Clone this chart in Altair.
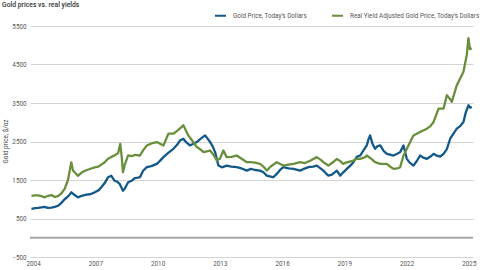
import altair as alt
import pandas as pd

title_text = "Gold prices vs. real yields"
series_names = ["Gold Price, Today's Dollars", "Real Yield Adjusted Gold Price, Today's Dollars"]
series_colors = ["#12598a", "#6a8f3c"]
y_ticks = [-500, 500, 1500, 2500, 3500, 4500, 5500]
x_ticks = [2004, 2007, 2010, 2013, 2016, 2019, 2022, 2025]
zero_line = [0]

gold_years = [2003.92, 2004.1, 2004.24, 2004.4, 2004.56, 2004.7, 2004.88, 2005.05, 2005.2, 2005.35,
              2005.52, 2005.7, 2005.84, 2006.0, 2006.16, 2006.35, 2006.57, 2006.75, 2006.97, 2007.15,
              2007.29, 2007.45, 2007.61, 2007.77, 2007.93, 2008.05, 2008.17, 2008.33, 2008.41, 2008.58,
              2008.75, 2008.9, 2009.05, 2009.15, 2009.3, 2009.48, 2009.7, 2009.96, 2010.1, 2010.28,
              2010.5, 2010.76, 2010.95, 2011.08, 2011.24, 2011.4, 2011.56, 2011.72, 2011.89, 2012.05,
              2012.29, 2012.4, 2012.53, 2012.65, 2012.77, 2012.85, 2012.93, 2013.1, 2013.33, 2013.55,
              2013.81, 2014.05, 2014.3, 2014.5, 2014.7, 2014.94, 2015.1, 2015.26, 2015.45, 2015.58,
              2015.74, 2015.9, 2016.06, 2016.3, 2016.55, 2016.87, 2017.05, 2017.27, 2017.5, 2017.67,
              2017.85, 2017.99, 2018.1, 2018.23, 2018.4, 2018.64, 2018.8, 2018.95, 2019.12, 2019.3,
              2019.44, 2019.6, 2019.76, 2019.9, 2020.08, 2020.16, 2020.24, 2020.35, 2020.48, 2020.6,
              2020.73, 2020.9, 2021.05, 2021.2, 2021.37, 2021.55, 2021.69, 2021.85, 2022.01, 2022.15,
              2022.33, 2022.5, 2022.65, 2022.8, 2022.98, 2023.15, 2023.3, 2023.46, 2023.62, 2023.78,
              2023.94, 2024.1, 2024.25, 2024.42, 2024.58, 2024.74, 2024.85, 2024.98, 2025.06, 2025.14]
gold_values = [750, 770, 775, 790, 800, 775, 780, 800, 830, 900,
               1000, 1080, 1180, 1110, 1050, 1090, 1120, 1130, 1180, 1230,
               1310, 1420, 1570, 1610, 1480, 1460, 1400, 1220, 1270, 1440,
               1480, 1550, 1560, 1572, 1740, 1833, 1860, 1919, 1990, 2094,
               2200, 2311, 2420, 2527, 2572, 2470, 2397, 2440, 2486, 2560,
               2658, 2580, 2486, 2380, 2224, 2050, 1875, 1830, 1875, 1850,
               1833, 1800, 1744, 1788, 1760, 1744, 1700, 1614, 1590, 1572,
               1658, 1760, 1833, 1800, 1788, 1744, 1790, 1833, 1850, 1875,
               1800, 1744, 1680, 1614, 1640, 1744, 1614, 1700, 1788, 1880,
               1963, 2100, 2136, 2250, 2397, 2550, 2658, 2450, 2311, 2380,
               2397, 2250, 2180, 2160, 2136, 2180, 2224, 2397, 2050, 1950,
               1875, 2000, 2136, 2080, 2050, 2110, 2180, 2130, 2110, 2180,
               2300, 2572, 2700, 2833, 2900, 3008, 3250, 3441, 3380, 3400]

adj_years = [2003.92, 2004.1, 2004.24, 2004.4, 2004.56, 2004.72, 2004.88, 2005.05, 2005.2, 2005.36,
             2005.52, 2005.68, 2005.84, 2005.92, 2006.0, 2006.16, 2006.35, 2006.5, 2006.7, 2006.97,
             2007.15, 2007.29, 2007.45, 2007.61, 2007.77, 2007.93, 2008.1, 2008.2, 2008.27, 2008.33,
             2008.42, 2008.58, 2008.75, 2008.9, 2009.15, 2009.3, 2009.48, 2009.7, 2009.96, 2010.28,
             2010.52, 2010.76, 2011.0, 2011.24, 2011.35, 2011.48, 2011.7, 2011.89, 2012.05, 2012.21,
             2012.53, 2012.7, 2012.85, 2013.0, 2013.17, 2013.33, 2013.55, 2013.81, 2014.05, 2014.3,
             2014.46, 2014.7, 2014.94, 2015.1, 2015.26, 2015.45, 2015.74, 2016.06, 2016.3, 2016.55,
             2016.87, 2017.1, 2017.35, 2017.67, 2017.85, 2017.99, 2018.23, 2018.45, 2018.64, 2018.8,
             2018.95, 2019.12, 2019.44, 2019.6, 2019.76, 2020.0, 2020.08, 2020.3, 2020.48, 2020.73,
             2021.05, 2021.2, 2021.37, 2021.55, 2021.69, 2021.85, 2022.09, 2022.33, 2022.65, 2022.98,
             2023.15, 2023.3, 2023.54, 2023.78, 2023.94, 2024.1, 2024.18, 2024.42, 2024.74, 2024.9,
             2024.98, 2025.05, 2025.14]
adj_values = [1090, 1100, 1100, 1080, 1050, 1090, 1110, 1060, 1080, 1150,
              1270, 1500, 1960, 1750, 1700, 1610, 1700, 1740, 1780, 1830,
              1850, 1900, 1960, 2050, 2100, 2140, 2200, 2440, 2100, 1700,
              1900, 2140, 2120, 2150, 2136, 2270, 2397, 2450, 2486, 2397,
              2702, 2702, 2800, 2920, 2800, 2658, 2500, 2355, 2300, 2224,
              2266, 2150, 2005, 2050, 2266, 2094, 2100, 2136, 2050, 1963,
              1963, 1950, 1919, 1850, 1744, 1850, 1963, 1875, 1900, 1919,
              1963, 1940, 2000, 2094, 2030, 1963, 1875, 1960, 2050, 1990,
              1919, 1960, 2005, 2050, 2050, 2094, 2136, 2050, 1963, 1919,
              1919, 1850, 1788, 1800, 1833, 2136, 2397, 2658, 2746, 2833,
              2900, 3008, 3355, 3355, 3702, 3600, 3530, 3963, 4313, 4747,
              5183, 4900, 4922]

df = pd.concat([
    pd.DataFrame({"year": gold_years, "value": gold_values, "series": series_names[0]}),
    pd.DataFrame({"year": adj_years, "value": adj_values, "series": series_names[1]}),
])
zero_df = pd.DataFrame({"value": zero_line})

FONT = "Roboto"
FS = 6.3

x = alt.X("year:Q",
          scale=alt.Scale(domain=[2003.85, 2025.2], nice=False, zero=False),
          axis=alt.Axis(values=x_ticks, format="d", grid=False, domain=False, ticks=False,
                        labelPadding=3, labelFontSize=FS, labelColor="#555555", labelFont=FONT,
                        labelOverlap=False, title=None, labelFlush=False))
y_axis = alt.Axis(values=y_ticks, format="d", grid=True, gridColor="#d4d4d4", gridWidth=1,
                  domain=False, ticks=False, labelPadding=4, labelFontSize=FS,
                  labelColor="#555555", labelFont=FONT, labelOverlap=False, tickCount=7,
                  title="Gold price, $/oz", titleFont=FONT, titleFontSize=FS,
                  titleFontWeight="normal", titleColor="#444444",
                  titleX=-22, titleY=115, titleAngle=270, titleAlign="center",
                  titleBaseline="bottom")
y_scale = alt.Scale(domain=[-500, 5500], nice=False, zero=False)
y = alt.Y("value:Q", scale=y_scale, axis=y_axis)

lines = alt.Chart(df).mark_line(strokeWidth=2.3, strokeJoin="round").encode(
    x=x, y=y,
    color=alt.Color("series:N",
                    scale=alt.Scale(domain=series_names, range=series_colors),
                    legend=alt.Legend(orient="none", legendX=184, legendY=-17, direction="horizontal",
                                      title=None, symbolType="stroke", symbolSize=121,
                                      symbolStrokeWidth=2, labelFont=FONT, labelFontSize=FS,
                                      labelColor="#555555", columnPadding=21, labelOffset=6,
                                      labelLimit=300)),
    order="year:Q",
)

zero = alt.Chart(zero_df).mark_rule(color="#a6a6a6", strokeWidth=2).encode(
    y=alt.Y("value:Q", scale=y_scale, axis=y_axis))

chart = alt.layer(zero, lines).properties(
    width=443, height=231,
    autosize=alt.AutoSizeParams(type="none"),
    padding={"left": 30, "top": 26, "right": 7, "bottom": 13},
    title=alt.TitleParams(title_text, anchor="start", dx=0, offset=0, fontSize=6.8,
                          font=FONT, fontWeight=500, color="#333333"),
).configure_view(stroke=None)

chart.save("out.html", embed_options={"renderer": "svg", "actions": False})
